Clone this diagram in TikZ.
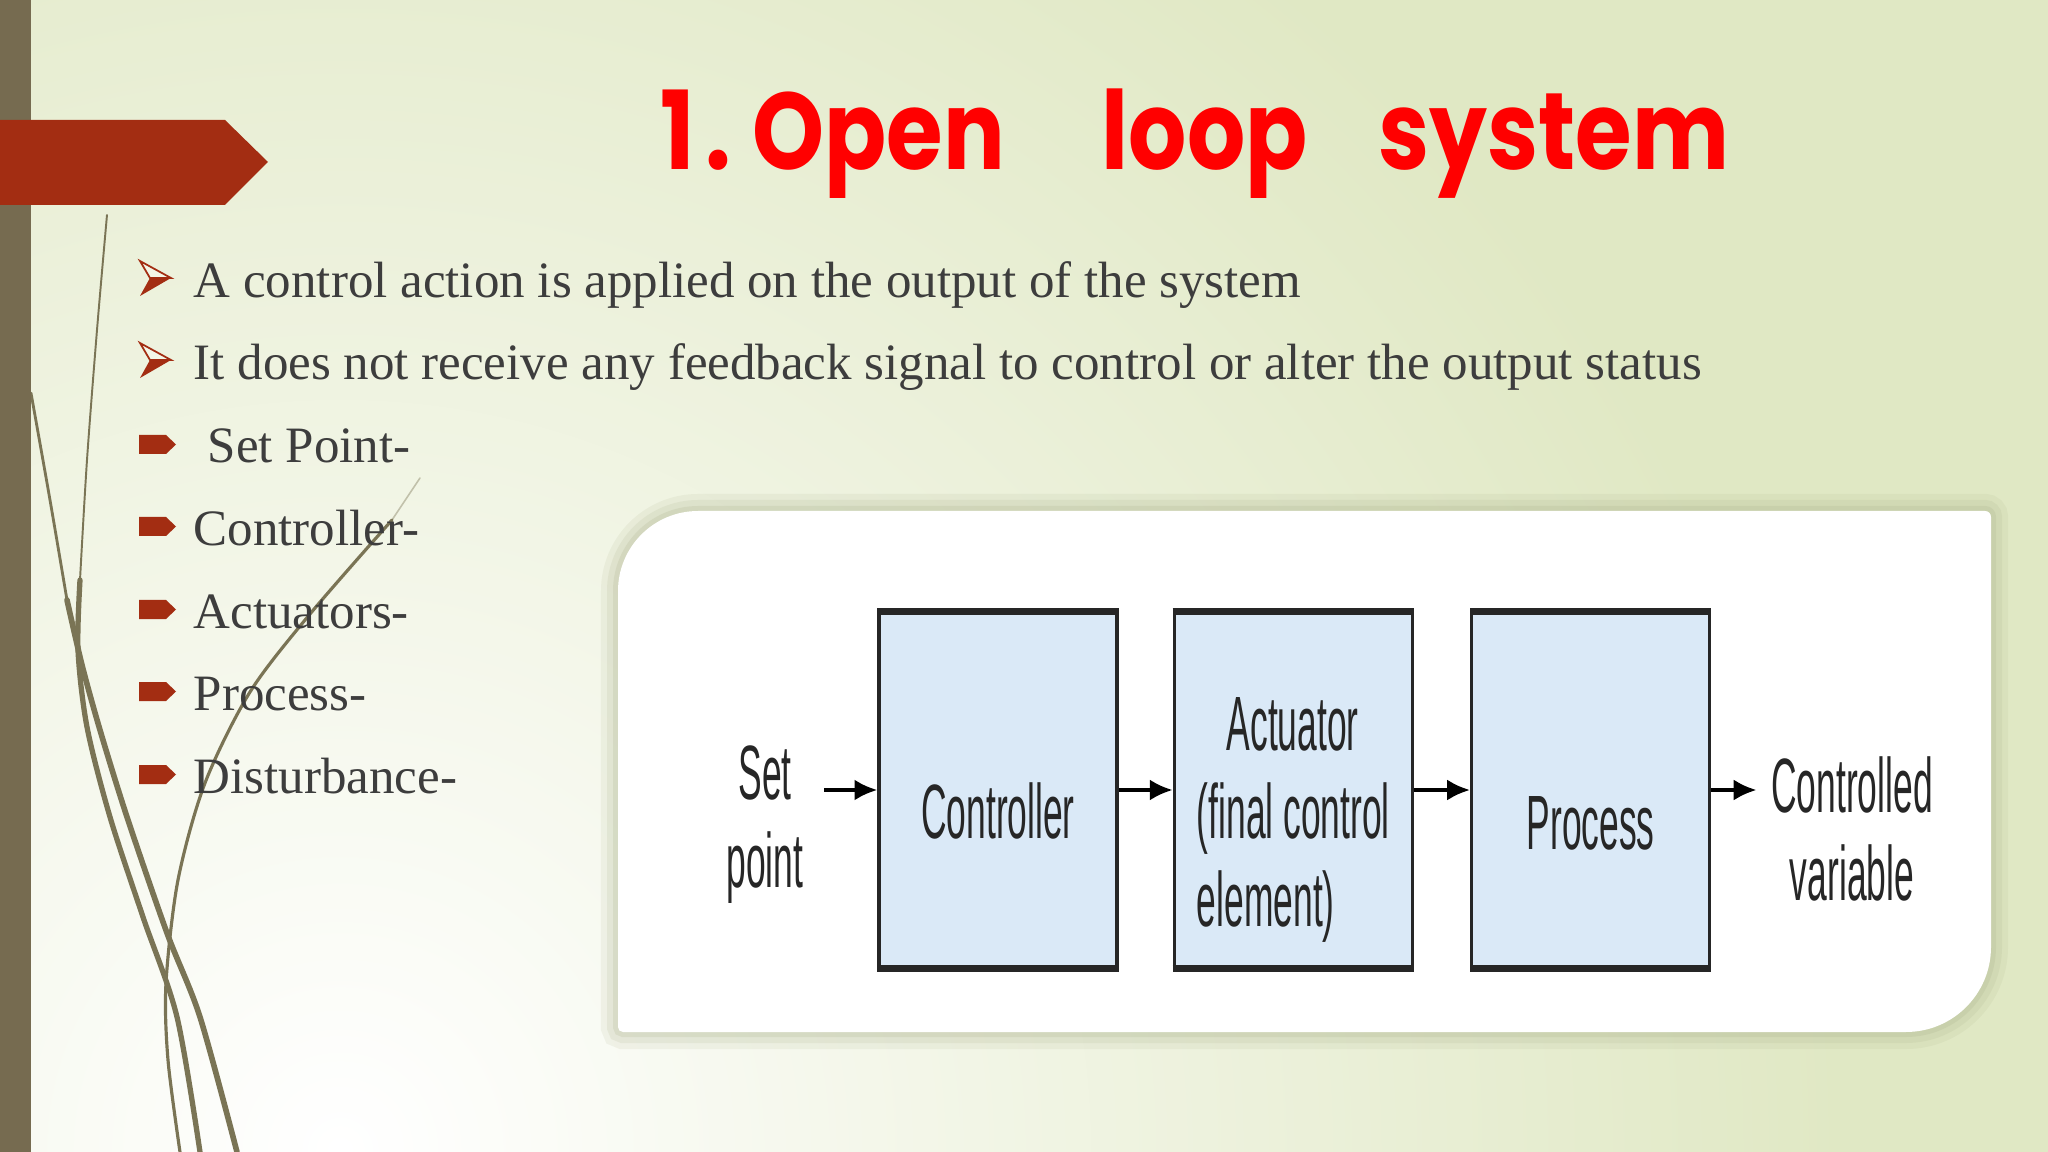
\documentclass[tikz,border=0pt]{standalone}
\usepackage{fontspec}
\setmainfont{Liberation Serif}
\newfontfamily\titlefont[FakeStretch=0.84]{Poppins}
\newfontfamily\diagfont[FakeStretch=0.46]{Liberation Sans}
\usetikzlibrary{positioning, arrows.meta}
\definecolor{slidebg}{HTML}{E0E8C4}
\definecolor{barbrown}{HTML}{766B50}
\definecolor{bannerred}{HTML}{A32D12}
\definecolor{wisp}{HTML}{7A7455}
\definecolor{bodytext}{HTML}{3D3D3D}
\definecolor{boxblue}{HTML}{DAE9F7}
\definecolor{shadowgreen}{HTML}{A8AF88}

\pgfdeclareradialshading{glow}{\pgfpoint{0bp}{0bp}}{color(0bp)=(white); color(15bp)=(slidebg); color(50bp)=(slidebg)}

\newcommand{\panelpath}{(618,700) [rounded corners=0.8cm] -- (618,511) -- (1300,511)
  [rounded corners=0.06cm] -- (1991,511) -- (1991,800) [rounded corners=0.85cm] -- (1991,1032)
  -- (1300,1032) [rounded corners=0.05cm] -- (618,1032) -- cycle}

\tikzset{
  itemtext/.style={anchor=base west, inner sep=0pt, text=bodytext,
                   font=\fontsize{14.5pt}{17pt}\selectfont},
  titleword/.style={anchor=base west, inner sep=0pt, text=red,
                    font=\titlefont\bfseries\fontsize{31pt}{34pt}\selectfont},
  blockbox/.style={draw=black!85, line width=0.9pt, fill=boxblue,
                   minimum width=2.38cm, minimum height=3.53cm, inner sep=0pt},
  blocklabel/.style={inner sep=0pt, text=black!85, align=center,
                     font=\diagfont\fontsize{21.9pt}{25pt}\selectfont},
  flow/.style={-{Latex[length=6.5pt, width=6pt]}, line width=1.1pt},
  wispline/.style={draw=wisp, line cap=round}
}

\begin{document}
\begin{tikzpicture}[x=0.01cm, y=-0.01cm]
  % slide background
  \begin{scope}
    \clip (0,0) rectangle (2048,1152);
    \fill[slidebg] (0,0) rectangle (2048,1152);
    \shade[shading=glow] (340,1150) circle[radius=25cm];
  \end{scope}
  \useasboundingbox (0,0) rectangle (2048,1152);

  % wisps on the left
  \draw[wispline, line width=0.55pt] plot[smooth] coordinates {(107,215) (97,330) (87,460) (80,580)};
  \draw[wispline, line width=1.5pt] plot[smooth] coordinates {(80,580) (78,650) (87,727) (110,817) (143,917) (177,1017) (200,1152)};
  \draw[wispline, line width=0.8pt] plot[smooth] coordinates {(31,393) (50,500) (67,600)};
  \draw[wispline, line width=1.6pt] plot[smooth] coordinates {(67,600) (82,665) (100,730) (127,817) (167,933) (200,1017) (237,1152)};
  \draw[wispline, line width=0.45pt, opacity=0.4] plot[smooth] coordinates {(420,478) (392,520)};
  \draw[wispline, line width=0.9pt] plot[smooth] coordinates {(392,520) (310,614) (250,692) (205,783) (178,880) (166,983) (168,1060) (180,1152)};

  % bar and banner
  \fill[barbrown] (0,0) rectangle (31,1152);
  \fill[bannerred] (0,120) -- (225,120) -- (268,162) -- (225,205) -- (0,205) -- cycle;

  % title
  \node[titleword] (title1) at (660,170) {1\kern3pt.\kern6pt Open};
  \node[titleword] (title2) at (1101,170) {loop};
  \node[titleword] (title3) at (1378,170) {system};

  % bullet points
  \foreach \n/\yb/\txt in {1/298/{A control action is applied on the output of the system},
                           2/380/{It does not receive any feedback signal to control or alter the output status}} {
    \fill[bannerred] (150,\yb-20) -- (171,\yb-20) -- (140,\yb-2) -- cycle;
    \draw[bannerred, line width=0.5pt, fill=white!60!slidebg] (140,\yb-37) -- (171,\yb-20) -- (150,\yb-20) -- cycle;
    \node[itemtext] (item\n) at (193,\yb) {\txt};
  }
  \foreach \n/\yb/\txt in {3/463/{\hspace*{4pt}Set Point-}, 4/545/{Controller-}, 5/628/{Actuators-},
                           6/710/{Process-}, 7/793/{Disturbance-}} {
    \fill[bannerred] (139,\yb-28) -- (166,\yb-28) -- (176,\yb-18.5) -- (166,\yb-9) -- (139,\yb-9) -- cycle;
    \node[itemtext] (item\n) at (193,\yb) {\txt};
  }

  % diagram panel
  \foreach \w/\o in {0.34cm/0.12, 0.22cm/0.15, 0.1cm/0.2}
    \draw[shadowgreen, line width=\w, opacity=\o] \panelpath;
  \fill[white] \panelpath;

  \node[blockbox] (ctrl) at (998,790) {};
  \node[blockbox, right=0.54cm of ctrl] (act) {};
  \node[blockbox, right=0.56cm of act] (proc) {};
  \foreach \b in {ctrl, act, proc}
    \draw[black!85, line width=2pt] (\b.north west) -- (\b.north east) (\b.south west) -- (\b.south east);

  \node[blocklabel] (ctrltxt) at ([yshift=-0.21cm]ctrl.center) {Controller};
  \node[blocklabel, align=left] (acttxt) at ([yshift=-0.3cm]act.center)
        {\hspace*{8.5pt}Actuator\\(final control\\element)};
  \node[blocklabel] (proctxt) at ([yshift=-0.33cm]proc.center) {Process};
  \node[blocklabel] (setpt) at (765,825) {Set\\point};
  \node[blocklabel] (cvar) at (1852,829) {Controlled\\variable};

  \draw[flow, shorten <=0.2cm] (setpt.east |- ctrl) -- (ctrl.west);
  \draw[flow] (ctrl.east) -- (act.west);
  \draw[flow] (act.east) -- (proc.west);
  \draw[flow, shorten >=0.14cm] (proc.east) -- (cvar.west |- proc);
\end{tikzpicture}
\end{document}
